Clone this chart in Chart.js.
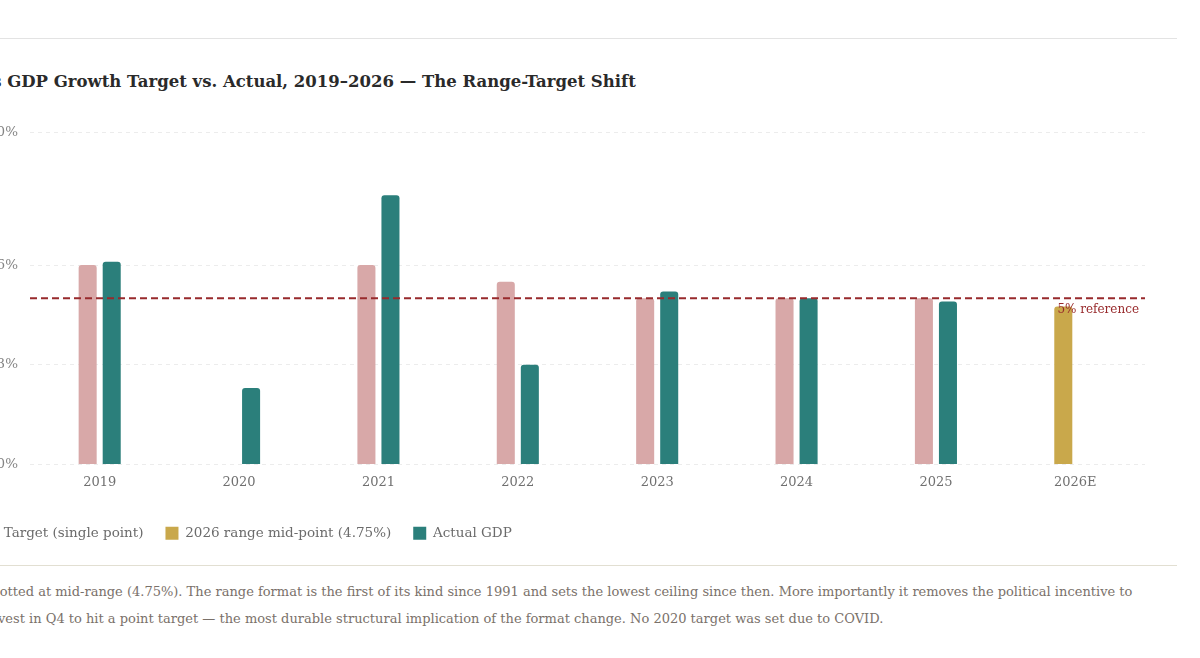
<!DOCTYPE html>
<html>
<head>
<meta charset="utf-8">
<script src="https://cdn.jsdelivr.net/npm/chart.js@4"></script>
<style>
  body { margin: 0; background: #fff; width: 1200px; height: 658px; overflow: hidden; position: relative; font-family: 'DejaVu Serif', Georgia, serif; }
  .rule { position: absolute; left: 0; width: 1177px; height: 1px; }
  .shift { position: absolute; white-space: nowrap; }
  #title { top: 72px; font-size: 16.5px; font-weight: bold; color: #2a2a2a; }
  .fn { font-size: 13px; color: #7a716a; }
  #chartBox { position: absolute; left: -38px; top: 102px; width: 1211px; height: 448px; }
</style>
</head>
<body>
<div class="rule" style="top:38px;background:#e3e3e3;"></div>
<div id="title" class="shift" data-x="7"><span class="pre">China's </span>GDP Growth Target vs. Actual, 2019–2026 — The Range-Target Shift</div>
<div id="chartBox"><canvas id="chart"></canvas></div>
<div class="rule" style="top:565px;background:#e2dfd2;"></div>
<div class="shift fn" style="top:584px" data-x="0"><span class="pre">Note: the 2026 target is a 4.5–5% range, pl</span>otted at mid-range (4.75%). The range format is the first of its kind since 1991 and sets the lowest ceiling since then. More importantly it removes the political incentive to</div>
<div class="shift fn" style="top:611px" data-x="-2"><span class="pre">over-in</span>vest in Q4 to hit a point target — the most durable structural implication of the format change. No 2020 target was set due to COVID.</div>

<script>
// data
var years = ['2019', '2020', '2021', '2022', '2023', '2024', '2025', '2026E'];
var target = [6.0, null, 6.0, 5.5, 5.0, 5.0, 5.0, 4.75];
var actual = [6.1, 2.3, 8.1, 3.0, 5.2, 5.0, 4.9, null];
var yTicks = [0, 3, 6, 10];
var refValue = 5;

var pink = '#d8a8a8', gold = '#c9a84b', teal = '#2b7f7b', red = '#982a2c';

// slide the clipped texts so the visible part lines up
document.querySelectorAll('.shift').forEach(function (el) {
    var pre = el.querySelector('.pre');
    el.style.left = (parseFloat(el.dataset.x) - pre.offsetWidth) + 'px';
});

Chart.defaults.font.family = "'DejaVu Serif', Georgia, serif";

var refLine = {
    id: 'refLine',
    afterDatasetsDraw: function (chart) {
        var ctx = chart.ctx, area = chart.chartArea;
        var y = chart.scales.y.getPixelForValue(refValue);
        ctx.save();
        ctx.strokeStyle = red;
        ctx.lineWidth = 2;
        ctx.setLineDash([7, 4]);
        ctx.beginPath();
        ctx.moveTo(area.left, y);
        ctx.lineTo(area.right, y);
        ctx.stroke();
        ctx.fillStyle = red;
        ctx.font = "12px 'DejaVu Serif', Georgia, serif";
        ctx.textAlign = 'right';
        ctx.textBaseline = 'middle';
        ctx.fillText('5% reference', area.right - 6, y + 12);
        ctx.restore();
    }
};

var legendColor = '#6b6b6b';

new Chart(document.getElementById('chart'), {
    type: 'bar',
    data: {
        labels: years,
        datasets: [{
            label: 'Target (single point)',
            data: target,
            backgroundColor: years.map(function (y) { return y === '2026E' ? gold : pink; }),
            borderRadius: 3,
            categoryPercentage: 0.345,
            barPercentage: 0.75
        }, {
            label: 'Actual GDP',
            data: actual,
            backgroundColor: teal,
            borderRadius: 3,
            categoryPercentage: 0.345,
            barPercentage: 0.75
        }]
    },
    options: {
        responsive: true,
        maintainAspectRatio: false,
        animation: false,
        layout: { padding: { top: 30, right: 28, left: 0, bottom: 0 } },
        scales: {
            x: {
                grid: { display: false, drawTicks: false },
                border: { display: false },
                ticks: { color: '#707070', font: { size: 13 }, padding: 10 },
                afterFit: function (s) { s.height = 40; }
            },
            y: {
                min: 0,
                max: 10,
                afterBuildTicks: function (s) { s.ticks = yTicks.map(function (v) { return { value: v }; }); },
                grid: { color: '#ececec', drawTicks: false },
                border: { display: false, dash: [4, 4] },
                ticks: { color: '#858585', font: { size: 13.5 }, padding: 12, callback: function (v) { return v + '%'; } },
                afterFit: function (s) { s.width = 68; }
            }
        },
        plugins: {
            tooltip: { enabled: false },
            legend: {
                position: 'bottom',
                align: 'start',
                onClick: null,
                labels: {
                    boxWidth: 13,
                    boxHeight: 13,
                    padding: 22,
                    color: legendColor,
                    font: { size: 13.5 },
                    generateLabels: function () {
                        return [
                            { text: 'Target (single point)', fillStyle: pink, strokeStyle: pink, lineWidth: 0, fontColor: legendColor },
                            { text: '2026 range mid-point (4.75%)', fillStyle: gold, strokeStyle: gold, lineWidth: 0, fontColor: legendColor },
                            { text: 'Actual GDP', fillStyle: teal, strokeStyle: teal, lineWidth: 0, fontColor: legendColor }
                        ];
                    }
                }
            }
        }
    },
    plugins: [refLine]
});
</script>
</body>
</html>
